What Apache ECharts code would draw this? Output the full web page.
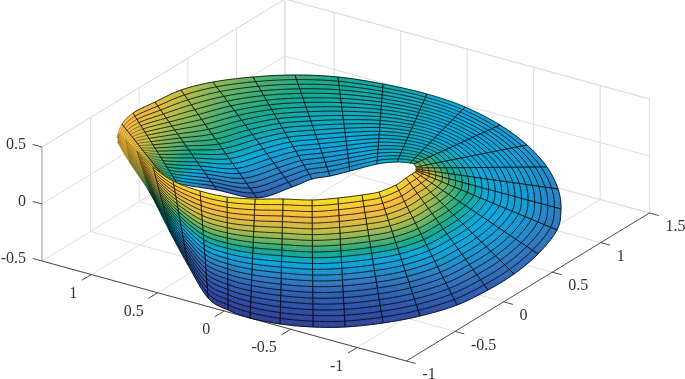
<!DOCTYPE html>
<html>
<head>
<meta charset="utf-8">
<style>html,body{margin:0;padding:0;background:#fff}#c{width:685px;height:379px}</style>
<script src="https://cdn.jsdelivr.net/npm/echarts@6/dist/echarts.min.js"></script>
</head>
<body>
<div id="c"></div>
<script>
// Tick labels of the three box axes
const xTicks = [1, 0.5, 0, -0.5, -1];
const yTicks = [-1, -0.5, 0, 0.5, 1, 1.5];
const zTicks = [-0.5, 0, 0.5];
// Surface: each rib runs from inner edge to outer edge, in view-plane units
const innerX = [150,160,177,217,257,292,312,330,350,377,397,410,414,416,416,416,416,416,415,412,406,396,379,362,338,312,283,255,227,200,173,153,137,126,119];
const innerY = [165,172,183,190,198,187,179,176,171,164,162,163,164,167,168,169,170,171,172,174,178,185,192,195,198,200,199,199,197,191,181,167,151,140,133];
const outerX = [117,122,133,155,181,213,253,295,338,383,427,465,500,527,547,558,561,557,538,514,488,457,420,383,345,313,280,250,228,208,188,170,150,130,118];
const outerY = [137,124,113,102,90,82,77,75,77,84,94,107,125,145,167,189,209,230,254,274,290,305,316,323,327,327,324,318,310,298,265,232,193,163,143];
// Colour value (0..1 of the colormap) at five stops along every rib
const shade0 = [.85,.65,.42,.18,.14,.2,.26,.28,.3,.38,.42,.5,.6,.72,.82,.88,.9,.92,.93,.95,.96,.98,1,1,1,1,1,1,1,.98,.96,.95,.92,.9,.9];
const shade1 = [.86,.72,.55,.38,.33,.33,.35,.35,.36,.39,.42,.42,.44,.45,.47,.5,.55,.58,.6,.65,.7,.74,.76,.76,.76,.76,.76,.76,.76,.76,.74,.85,.9,.9,.9];
const shade2 = [.87,.8,.68,.55,.5,.45,.44,.42,.41,.42,.42,.38,.37,.36,.36,.36,.37,.38,.39,.4,.42,.42,.4,.38,.38,.38,.38,.38,.38,.38,.42,.65,.8,.85,.9];
const shade3 = [.88,.86,.8,.7,.63,.55,.52,.47,.46,.44,.42,.38,.36,.35,.34,.34,.34,.34,.33,.32,.3,.26,.22,.18,.17,.17,.17,.17,.17,.17,.22,.5,.65,.82,.88];
const shade4 = [.88,.88,.88,.85,.76,.68,.6,.55,.5,.45,.42,.37,.34,.32,.3,.28,.26,.24,.21,.19,.16,.14,.11,.09,.08,.07,.06,.05,.05,.05,.12,.35,.55,.78,.88];
const ringCount = 22;

const shades = [shade0, shade1, shade2, shade3, shade4];
const colormap = [[42,47,133],[46,79,165],[47,120,191],[8,168,220],[20,168,138],[111,179,95],[192,189,69],[246,184,64],[247,224,28]];
function parula(v) {
  const t = Math.max(0, Math.min(1, v)) * (colormap.length - 1);
  const i = Math.min(colormap.length - 2, Math.floor(t)), f = t - i;
  const a = colormap[i], b = colormap[i + 1];
  return 'rgb(' + [0, 1, 2].map(k => Math.round(a[k] + (b[k] - a[k]) * f)).join(',') + ')';
}
function shadeAt(r, s) {
  const t = s * 4, i = Math.min(3, Math.floor(t)), f = t - i;
  return shades[i][r] + (shades[i + 1][r] - shades[i][r]) * f;
}
const ribTotal = innerX.length;
function ribPoint(r, s) {
  const k = Math.max(0, Math.min(ribTotal - 1, r));
  return [innerX[k] + (outerX[k] - innerX[k]) * s, innerY[k] + (outerY[k] - innerY[k]) * s];
}
// Smooth curve through the ribs at a given position along them
function meshPoint(r, u, s) {
  const p0 = ribPoint(r - 1, s), p1 = ribPoint(r, s), p2 = ribPoint(r + 1, s), p3 = ribPoint(r + 2, s);
  const u2 = u * u, u3 = u2 * u;
  return [0, 1].map(k => 0.5 * (2 * p1[k] + (p2[k] - p0[k]) * u +
    (2 * p0[k] - 5 * p1[k] + 4 * p2[k] - p3[k]) * u2 + (3 * p1[k] - p0[k] - 3 * p2[k] + p3[k]) * u3));
}
// Box geometry: a parallel projection of the plot box onto the view plane
const xMax = 1.37, xMin = -1.37, yMin = -1, yMax = 1.5, zMin = -0.5, zMax = 0.5;
function project(x, y, z) {
  return [42 + (xMax - x) * 133 + (y - yMin) * 97.2,
          261 + (xMax - x) * 36.5 - (y - yMin) * 59.2 - (z - zMin) * 114];
}
const gridSegs = [], axisSegs = [], zAxisSegs = [], labels = [];
xTicks.forEach(x => {
  gridSegs.push([project(x, yMin, zMin), project(x, yMax, zMin)]);
  gridSegs.push([project(x, yMax, zMin), project(x, yMax, zMax)]);
  axisSegs.push([project(x, yMin, zMin), project(x, yMin - 0.096, zMin)]);
  labels.push({p: project(x, yMin, zMin), text: String(x), dx: -14, dy: 19, align: 'right'});
});
yTicks.forEach(y => {
  gridSegs.push([project(xMin, y, zMin), project(xMax, y, zMin)]);
  gridSegs.push([project(xMax, y, zMin), project(xMax, y, zMax)]);
  axisSegs.push([project(xMin, y, zMin), project(xMin - 0.07, y, zMin)]);
  labels.push({p: project(xMin, y, zMin), text: String(y), dx: 16, dy: 14, align: 'left'});
});
zTicks.forEach(z => {
  gridSegs.push([project(xMax, yMin, z), project(xMax, yMax, z)]);
  gridSegs.push([project(xMax, yMax, z), project(xMin, yMax, z)]);
  axisSegs.push([project(xMax, yMin, z), project(xMax + 0.07, yMin, z)]);
  labels.push({p: project(xMax, yMin, z), text: String(z), dx: -16, dy: -2, align: 'right'});
});
gridSegs.push([project(xMax, yMax, zMin), project(xMax, yMax, zMax)]);
gridSegs.push([project(xMin, yMax, zMin), project(xMin, yMax, zMax)]);
gridSegs.push([project(xMax, yMax, zMax), project(xMin, yMax, zMax)]);
gridSegs.push([project(xMax, yMin, zMax), project(xMax, yMax, zMax)]);
zAxisSegs.push([project(xMax, yMin, zMin), project(xMax, yMin, zMax)]);
axisSegs.push([project(xMax, yMin, zMin), project(xMin, yMin, zMin)]);
axisSegs.push([project(xMin, yMin, zMin), project(xMin, yMax, zMin)]);

function segSeries(segs, color, width, z) {
  return {
    type: 'custom', coordinateSystem: 'cartesian2d', silent: true, z: z, clip: false,
    progressive: 0, animation: false,
    data: segs.map((s, i) => [i]),
    encode: {x: 0, y: 0},
    renderItem: (params, api) => {
      const s = segs[api.value(0)], a = api.coord(s[0]), b = api.coord(s[1]);
      return {type: 'line', shape: {x1: a[0], y1: a[1], x2: b[0], y2: b[1]},
              style: {stroke: color, lineWidth: width, fill: null}};
    }
  };
}

const gaps = innerX.slice(0, -1).map((_, i) => [i]);
const meshSeries = {
  type: 'custom', coordinateSystem: 'cartesian2d', silent: true, z: 3, clip: false,
  progressive: 0, animation: false, data: gaps, encode: {x: 0, y: 0},
  renderItem: (params, api) => {
    const r = api.value(0), kids = [], uN = 5, sN = 2;
    const C = (u, s) => api.coord(meshPoint(r, u, s));
    for (let j = 0; j < ringCount; j++) {
      for (let q = 0; q < sN; q++) {
        const s0 = (j + q / sN) / ringCount, s1 = (j + (q + 1) / sN) / ringCount, sm = (s0 + s1) / 2;
        for (let i = 0; i < uN; i++) {
          const u0 = i / uN, u1 = (i + 1) / uN, um = (u0 + u1) / 2;
          const col = parula(shadeAt(r, sm) * (1 - um) + shadeAt(r + 1, sm) * um);
          kids.push({type: 'polygon', shape: {points: [C(u0, s0), C(u1, s0), C(u1, s1), C(u0, s1)]},
                     style: {fill: col, stroke: col, lineWidth: 0.6}});
        }
      }
    }
    // Lines thin out where the band is seen edge-on, so the fold does not turn solid black
    const ribLen = Math.hypot(outerX[r] - innerX[r], outerY[r] - innerY[r]);
    const spacing = ribLen / ringCount;
    const ringAlpha = Math.max(0.25, Math.min(0.85, spacing / 4.5));
    const ringWidth = Math.max(0.4, Math.min(0.9, spacing / 4));
    const ribAlpha = Math.max(0.3, Math.min(0.85, ribLen / 70));
    for (let j = 0; j <= ringCount; j++) {
      const s = j / ringCount, pts = [];
      for (let i = 0; i <= uN; i++) pts.push(C(i / uN, s));
      kids.push({type: 'polyline', shape: {points: pts},
                 style: {stroke: 'rgba(0,0,0,' + ringAlpha + ')', lineWidth: ringWidth, fill: null}});
    }
    [0, 1].forEach(u => {
      const a = C(u, 0), b = C(u, 1);
      kids.push({type: 'line', shape: {x1: a[0], y1: a[1], x2: b[0], y2: b[1]},
                 style: {stroke: 'rgba(0,0,0,' + ribAlpha + ')', lineWidth: 0.9}});
    });
    return {type: 'group', children: kids};
  }
};
const labelSeries = {
  type: 'custom', coordinateSystem: 'cartesian2d', silent: true, z: 5, clip: false,
  progressive: 0, animation: false, data: labels.map((l, i) => [i]), encode: {x: 0, y: 0},
  renderItem: (params, api) => {
    const l = labels[api.value(0)], p = api.coord(l.p);
    return {type: 'text', style: {text: l.text, x: p[0] + l.dx, y: p[1] + l.dy, fill: '#333',
            font: '16px "Liberation Serif"', textAlign: l.align, textVerticalAlign: 'middle'}};
  }
};

const chart = echarts.init(document.getElementById('c'), null, {renderer: 'canvas'});
chart.setOption({
  animation: false,
  backgroundColor: '#fff',
  grid: {left: 0, right: 0, top: 0, bottom: 0},
  xAxis: {type: 'value', min: 0, max: 685, show: false},
  yAxis: {type: 'value', min: 0, max: 379, inverse: true, show: false},
  series: [
    segSeries(gridSegs, '#dedede', 1, 1),
    segSeries(zAxisSegs, '#bdbdbd', 1.4, 2),
    segSeries(axisSegs, '#3a3a3a', 0.9, 2),
    meshSeries,
    labelSeries
  ]
});
</script>
</body>
</html>
